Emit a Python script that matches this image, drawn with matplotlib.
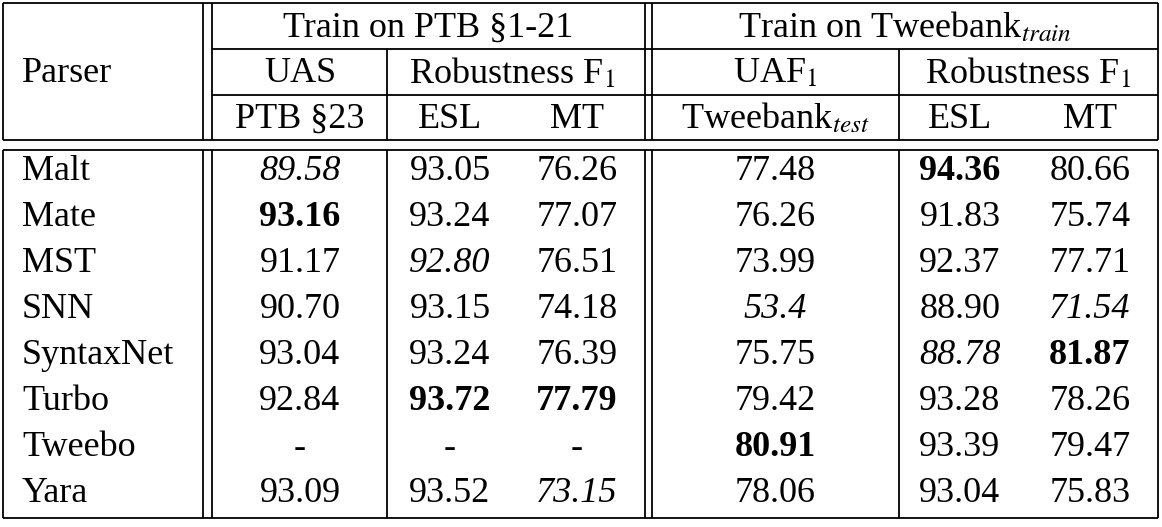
import matplotlib.pyplot as plt

plt.rcParams['font.family'] = ['Liberation Serif', 'DejaVu Serif']
plt.rcParams['mathtext.fontset'] = 'stix'

parsers = ["Malt", "Mate", "MST", "SNN", "SyntaxNet", "Turbo", "Tweebo", "Yara"]
ptb_uas = ["89.58", "93.16", "91.17", "90.70", "93.04", "92.84", "-", "93.09"]
ptb_esl = ["93.05", "93.24", "92.80", "93.15", "93.24", "93.72", "-", "93.52"]
ptb_mt = ["76.26", "77.07", "76.51", "74.18", "76.39", "77.79", "-", "73.15"]
tb_uaf = ["77.48", "76.26", "73.99", "53.4", "75.75", "79.42", "80.91", "78.06"]
tb_esl = ["94.36", "91.83", "92.37", "88.90", "88.78", "93.28", "93.39", "93.04"]
tb_mt = ["80.66", "75.74", "77.71", "71.54", "81.87", "78.26", "79.47", "75.83"]
columns = [ptb_uas, ptb_esl, ptb_mt, tb_uaf, tb_esl, tb_mt]
# best (bold) and worst (italic) per column
bold = {(0, 1), (1, 5), (2, 5), (3, 6), (4, 0), (5, 4)}
italic = {(0, 0), (1, 2), (2, 7), (3, 3), (4, 4), (5, 3)}

W, H = 1162, 527
fig = plt.figure(figsize=(W / 100, H / 100), dpi=100)
ax = fig.add_axes([0, 0, 1, 1])
ax.set_xlim(0, W)
ax.set_ylim(H, 0)
ax.axis('off')

lw = 1.3
def hl(y, x0=3, x1=1158):
    ax.plot([x0, x1], [y, y], color='black', lw=lw, solid_capstyle='butt')
def vl(x, y0, y1):
    ax.plot([x, x], [y0, y1], color='black', lw=lw, solid_capstyle='butt')

# horizontal rules
hl(3); hl(140); hl(150); hl(518)
hl(49, 212); hl(95, 212)
# vertical rules (header part and body part)
for y0, y1 in [(3, 140), (150, 518)]:
    for x in [3, 203, 212, 645, 652, 1158]:
        vl(x, y0, y1)
    y0b = 49 if y0 == 3 else y0
    vl(387, y0b, y1)
    vl(899, y0b, y1)

fs = 26
dy = 2
ax.text(22, 72 + dy, "Parser", fontsize=fs, va='center', ha='left')
ax.text(428, 26 + dy, "Train on PTB §1-21", fontsize=fs, va='center', ha='center')
ax.text(905, 26 + dy, r"Train on Tweebank$_{train}$", fontsize=fs, va='center', ha='center')
ax.text(300, 72 + dy, "UAS", fontsize=fs, va='center', ha='center')
ax.text(512, 72 + dy, r"Robustness F$_1$", fontsize=fs, va='center', ha='center')
ax.text(775, 72 + dy, r"UAF$_1$", fontsize=fs, va='center', ha='center')
ax.text(1028, 72 + dy, r"Robustness F$_1$", fontsize=fs, va='center', ha='center')

col_x = [300, 450, 577, 775, 960, 1090]
sub = ["PTB §23", "ESL", "MT", r"Tweebank$_{test}$", "ESL", "MT"]
for x, s in zip(col_x, sub):
    ax.text(x, 117 + dy, s, fontsize=fs, va='center', ha='center')

for i, p in enumerate(parsers):
    y = 172 + 46 * i
    ax.text(22, y, p, fontsize=fs, va='center', ha='left')
    for j, col in enumerate(columns):
        w = 'bold' if (j, i) in bold else 'normal'
        st = 'italic' if (j, i) in italic else 'normal'
        ax.text(col_x[j], y, col[i], fontsize=fs, va='center', ha='center',
                fontweight=w, fontstyle=st)

fig.savefig('out.png', dpi=100)
